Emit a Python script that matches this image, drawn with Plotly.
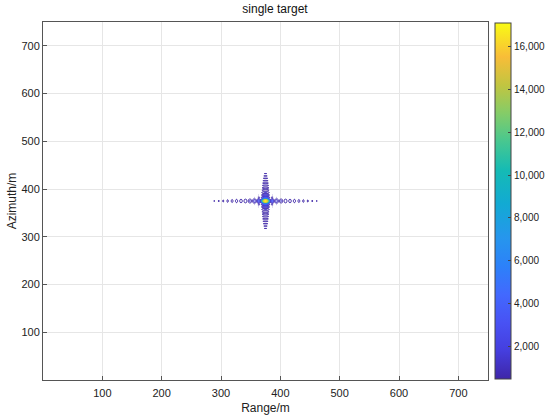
import plotly.graph_objects as go

# point target centre (m)
center_range = 375
center_az = 375
peak = 17120

# one-sided range cut: offsets from centre (m) and relative amplitude (peaks / nulls)
rg_off = [0, 2.0, 4.0, 6.0, 7.5, 11.3, 15.0, 18.8, 22.5, 26.3, 30.0, 33.8, 37.5, 41.3, 45.0,
          48.8, 52.5, 56.3, 60.0, 63.8, 67.5, 71.3, 75.0, 78.8, 82.5, 86.3, 90.0, 93.8, 97.5]
rg_amp = [1.0, 0.95, 0.78, 0.42, 0, 0.21, 0, 0.13, 0, 0.09, 0, 0.07, 0, 0.058, 0,
          0.049, 0, 0.042, 0, 0.037, 0, 0.033, 0, 0.030, 0, 0.028, 0, 0.026, 0]

# one-sided azimuth cut
az_off = [0, 1.5, 3.0, 4.0, 5.0, 7.5, 10, 12.5, 15, 17.5, 20, 22.5, 25, 27.5, 30,
          32.5, 35, 37.5, 40, 42.5, 45, 47.5, 50, 52.5, 55, 57.5, 60]
az_amp = [1.0, 0.95, 0.70, 0.35, 0, 0.21, 0, 0.13, 0, 0.09, 0, 0.07, 0, 0.058, 0,
          0.049, 0, 0.042, 0, 0.037, 0, 0.033, 0, 0.030, 0, 0.028, 0]

ticks = [100, 200, 300, 400, 500, 600, 700]
cb_ticks = [2000, 4000, 6000, 8000, 10000, 12000, 14000, 16000]

parula = [
    [0.000, 'rgb(62,38,168)'],
    [0.079, 'rgb(69,62,222)'],
    [0.159, 'rgb(72,82,244)'],
    [0.238, 'rgb(66,105,254)'],
    [0.317, 'rgb(44,129,249)'],
    [0.397, 'rgb(38,150,237)'],
    [0.492, 'rgb(18,170,211)'],
    [0.587, 'rgb(21,187,180)'],
    [0.667, 'rgb(71,199,144)'],
    [0.746, 'rgb(132,204,104)'],
    [0.825, 'rgb(193,197,65)'],
    [0.905, 'rgb(248,189,56)'],
    [1.000, 'rgb(249,251,21)'],
]

# mirror the cuts and build the separable image
x = [center_range - o for o in rg_off[:0:-1]] + [center_range + o for o in rg_off]
xa = rg_amp[:0:-1] + rg_amp
y = [center_az - o for o in az_off[:0:-1]] + [center_az + o for o in az_off]
ya = az_amp[:0:-1] + az_amp
z = [[peak * a * r for r in xa] for a in ya]

fig = go.Figure()
fig.add_trace(go.Contour(
    x=x, y=y, z=z,
    colorscale=parula, zmin=455, zmax=peak,
    autocontour=False, showscale=False,
    contours=dict(start=450, end=16500, size=1000, coloring='lines'),
    line=dict(width=1.0),
))

# dummy trace just to carry the continuous colorbar
fig.add_trace(go.Scatter(
    x=[None], y=[None], mode='markers', hoverinfo='skip',
    marker=dict(
        colorscale=parula, cmin=455, cmax=peak, color=[peak], showscale=True,
        colorbar=dict(
            xref='container', x=495 / 550, xanchor='left',
            y=0.5, yanchor='middle', len=0.995, lenmode='fraction',
            thickness=16, outlinewidth=1, outlinecolor='#444', xpad=0, ypad=0,
            tickvals=cb_ticks, tickformat=',d', ticks='inside', ticklen=3,
            tickcolor='#444', tickfont=dict(size=10, color='#222'),
        ),
    ),
))

axis_style = dict(
    range=[0, 750], tickvals=ticks, showgrid=True, gridcolor='#e6e6e6',
    zeroline=False, showline=True, linecolor='#555', mirror=True,
    ticks='inside', ticklen=4, tickcolor='#555', automargin=False,
    tickfont=dict(size=11, color='#222'),
)

fig.update_layout(
    width=550, height=419,
    margin=dict(l=43, r=62, t=22, b=39),
    paper_bgcolor='white', plot_bgcolor='white',
    font=dict(family='Liberation Sans, Arial, sans-serif', color='#222'),
    title=dict(text='single target', x=0.5, xanchor='center', y=0.99,
               yanchor='top', font=dict(size=12, color='#111')),
    xaxis=dict(axis_style, ticklabelstandoff=3,
               title=dict(text='Range/m', font=dict(size=12), standoff=5)),
    yaxis=dict(axis_style, title=dict(text='Azimuth/m', font=dict(size=12), standoff=2)),
    showlegend=False,
)

# drop the default page margin so the figure sits at the window origin
fig.write_html("out.html", config={'displayModeBar': False},
               post_script="document.body.style.margin='0';")
